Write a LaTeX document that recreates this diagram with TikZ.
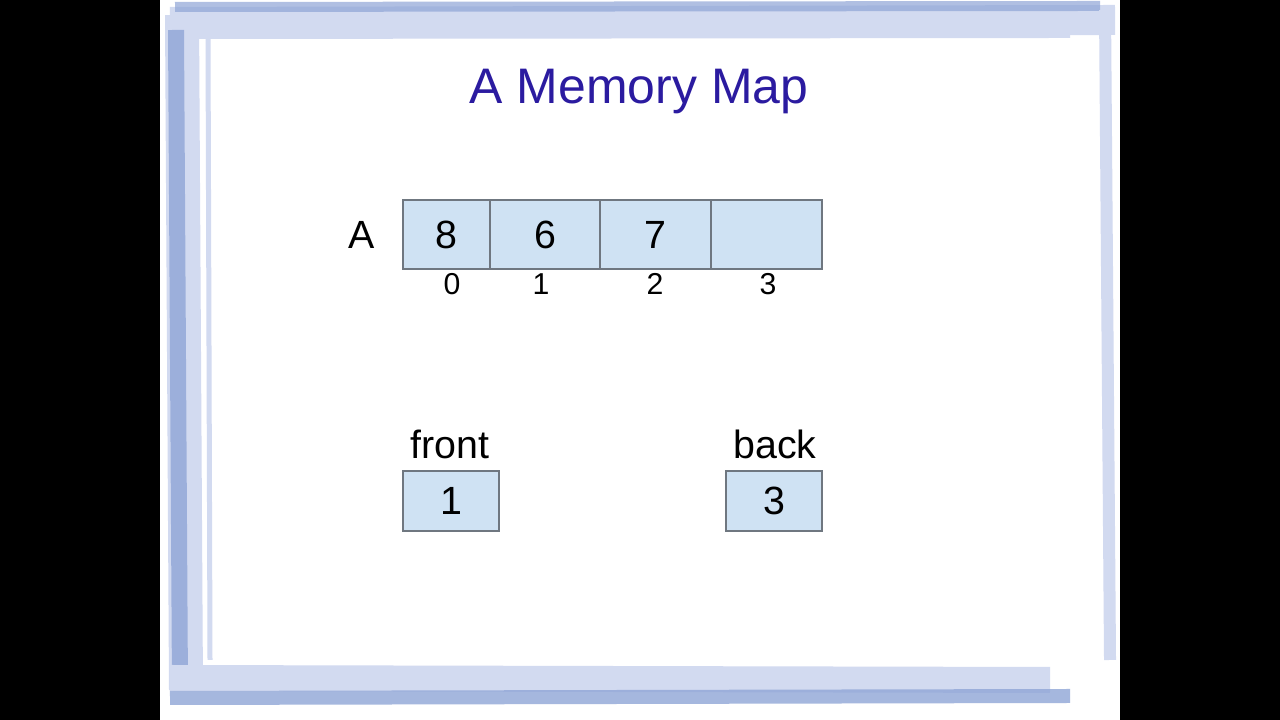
\documentclass[tikz,border=0pt]{standalone}
\usepackage{fontspec}
\setmainfont{Liberation Sans}
\definecolor{slideblue}{HTML}{2B1BA0}
\definecolor{cellfill}{HTML}{CFE2F3}
\definecolor{cellline}{HTML}{6F7780}
\definecolor{brushdark}{HTML}{8FA5D6}
\definecolor{brushlight}{HTML}{D2DAF0}

\tikzset{
  cell/.style={draw=cellline, line width=0.4pt, fill=cellfill, minimum height=0.69cm,
    inner sep=0pt, font=\fontsize{11.2}{13}\selectfont},
  idx/.style={inner sep=0pt, font=\fontsize{8.6}{10}\selectfont},
  varname/.style={inner sep=0pt, font=\fontsize{11.2}{13}\selectfont},
  brush/.style={line cap=butt, line width=#1}
}

\begin{document}
\begin{tikzpicture}
  \useasboundingbox (0,0) rectangle (12.8,7.2);

  % slide background and painted frame
  \fill[black] (0,0) rectangle (12.8,7.2);
  \fill[white] (1.6,0) rectangle (11.2,7.2);

  \draw[brushlight, brush=0.30cm] (1.70,6.98) -- (11.15,7.00);
  \draw[brushdark, opacity=0.7, brush=0.10cm] (1.75,7.13) -- (11.00,7.14);
  \draw[brushlight, brush=0.06cm] (1.95,6.84) -- (10.70,6.85);
  \draw[brushlight, brush=0.34cm] (1.82,7.05) -- (1.86,0.30);
  \draw[brushdark, opacity=0.8, brush=0.16cm] (1.76,6.90) -- (1.80,0.30);
  \draw[brushlight, brush=0.05cm] (2.08,6.85) -- (2.10,0.60);
  \draw[brushlight, brush=0.12cm] (11.05,7.10) -- (11.10,0.60);
  \draw[brushlight, brush=0.26cm] (1.70,0.42) -- (10.50,0.40);
  \draw[brushdark, opacity=0.8, brush=0.14cm] (1.70,0.22) -- (10.70,0.24);

  % title
  \node[text=slideblue, font=\fontsize{14.2}{17}\selectfont] (title) at (6.39,6.28) {A Memory Map};

  % array A
  \coordinate (a0) at (4.465,4.855);
  \coordinate (a1) at (5.450,4.855);
  \coordinate (a2) at (6.555,4.855);
  \coordinate (a3) at (7.665,4.855);

  \node[varname] (arrname) at (3.62,4.85) {A};
  \node[cell, minimum width=0.87cm] (c0) at (a0) {8};
  \node[cell, minimum width=1.10cm] (c1) at (a1) {6};
  \node[cell, minimum width=1.11cm] (c2) at (a2) {7};
  \node[cell, minimum width=1.11cm] (c3) at (a3) {};

  \node[idx] (i0) at (4.52,4.36) {0};
  \node[idx] (i1) at (5.41,4.36) {1};
  \node[idx] (i2) at (6.55,4.36) {2};
  \node[idx] (i3) at (7.68,4.36) {3};

  % front and back
  \node[cell, minimum width=0.96cm, minimum height=0.60cm] (front) at (4.51,2.19) {1};
  \node[cell, minimum width=0.96cm, minimum height=0.60cm] (back)  at (7.74,2.19) {3};
  \node[varname] (frontname) at (4.50,2.76) {front};
  \node[varname] (backname)  at (7.75,2.76) {back};
\end{tikzpicture}
\end{document}
